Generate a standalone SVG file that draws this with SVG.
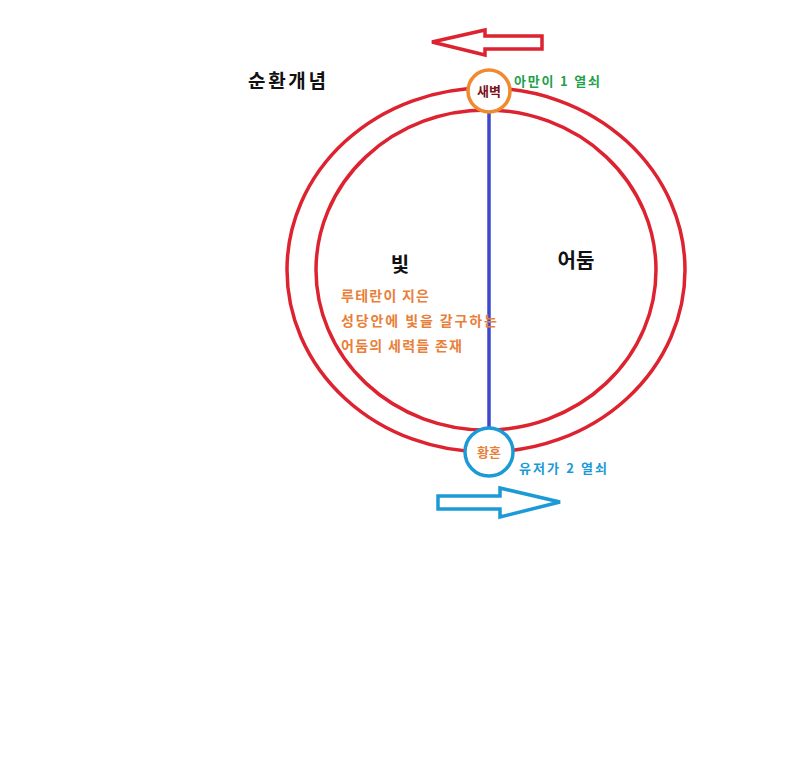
<svg xmlns="http://www.w3.org/2000/svg" width="800" height="761" viewBox="0 0 800 761">
<style>
text{font-family:"Noto Sans CJK KR","Noto Sans",sans-serif;font-weight:bold}
.ring{fill:none;stroke:#dd2230;stroke-width:3.5}
</style>
<rect width="800" height="761" fill="#fff"/>
<g id="title"><text x="248" y="88" font-size="19" fill="#111" textLength="78" lengthAdjust="spacing">순환개념</text></g>
<g id="cycle">
<ellipse class="ring" cx="486" cy="270" rx="199" ry="182"/>
<ellipse class="ring" cx="486" cy="270" rx="170" ry="160"/>
</g>
<g id="connectors">
<line x1="489" y1="110" x2="489" y2="430" stroke="#3f48cc" stroke-width="3.5"/>
<polygon points="432,42 485,30 485,36 542,36 542,49 485,49 485,55" fill="none" stroke="#dd2230" stroke-width="3.5" stroke-linejoin="miter"/>
<polygon points="438,496 500,496 500,488 560,502 500,517 500,509 438,509" fill="none" stroke="#1c9ad6" stroke-width="3.5"/>
</g>
<g id="dawn">
<circle cx="489" cy="91" r="21" fill="#fff" stroke="#f08a30" stroke-width="3.5"/>
<text x="489" y="96" font-size="13" fill="#7a1218" text-anchor="middle">새벽</text>
</g>
<g id="dawn-label"><text x="514" y="86" font-size="13" fill="#22a04a" textLength="86" lengthAdjust="spacing">아만이 1 열쇠</text></g>
<g id="dusk">
<circle cx="489" cy="452" r="24" fill="#fff" stroke="#1c9ad6" stroke-width="3.5"/>
<text x="489" y="457" font-size="13" fill="#e8803a" text-anchor="middle">황혼</text>
</g>
<g id="dusk-label"><text x="519" y="473" font-size="13" fill="#1c9ad6" textLength="88" lengthAdjust="spacing">유저가 2 열쇠</text></g>
<g id="light"><text x="400" y="272" font-size="20" fill="#111" text-anchor="middle">빛</text></g>
<g id="dark"><text x="576" y="268" font-size="20" fill="#111" text-anchor="middle">어둠</text></g>
<g id="desc" font-size="14" fill="#e8803a">
<text x="341" y="301" textLength="88" lengthAdjust="spacing">루테란이 지은</text>
<text x="341" y="326" textLength="156" lengthAdjust="spacing">성당안에 빛을 갈구하는</text>
<text x="341" y="351" textLength="121" lengthAdjust="spacing">어둠의 세력들 존재</text>
</g>
</svg>
